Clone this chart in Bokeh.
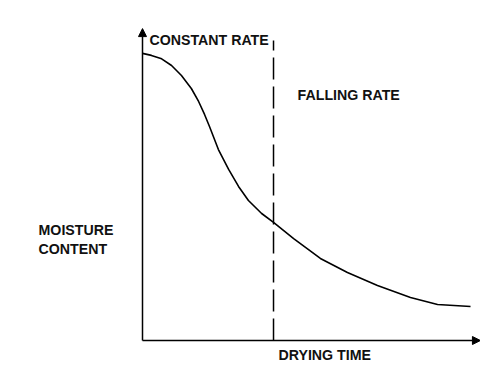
from bokeh.plotting import figure
from bokeh.models import Range1d, Label, Arrow, NormalHead
from bokeh.embed import file_html
from bokeh.resources import INLINE

# Drying curve (conceptual units: time 0-100, moisture 0-100)
time = [0, 2.7, 5.8, 8.8, 11.8, 14.8, 17.0, 18.8, 20.3, 23.0, 26.1, 29.1,
        32.1, 36.1, 39.7, 45.8, 53.9, 62.1, 71.2, 81.2, 89.4, 99.4]
moisture = [99.7, 99.0, 97.8, 95.5, 92.0, 87.5, 83.0, 78.5, 74.3, 66.3, 59.4,
            53.5, 48.6, 44.1, 41.0, 35.4, 28.5, 23.6, 19.1, 14.9, 12.5, 11.8]
critical_time = 39.7
critical_top = 104.2
x_axis_end = 102.4
y_axis_end = 108.3

label_constant = "CONSTANT RATE"
label_falling = "FALLING RATE"
label_y = ["MOISTURE", "CONTENT"]
label_x = "DRYING TIME"

p = figure(width=480, height=372, output_backend="svg", toolbar_location=None,
           x_range=Range1d(-43.03, 102.42), y_range=Range1d(-11.11, 118.06),
           min_border=0)
p.axis.visible = False
p.grid.visible = False
p.outline_line_color = None
p.background_fill_color = "white"

# Axes with arrows
p.add_layout(Arrow(end=NormalHead(size=8, fill_color="black", line_color="black"),
                   x_start=0, y_start=0, x_end=0, y_end=y_axis_end,
                   line_width=1.5, line_color="black"))
p.add_layout(Arrow(end=NormalHead(size=8, fill_color="black", line_color="black"),
                   x_start=0, y_start=0, x_end=x_axis_end, y_end=0,
                   line_width=1.5, line_color="black"))

# Critical moisture dashed line
p.line([critical_time, critical_time], [0, critical_top], line_color="black",
       line_width=1.5, line_dash="22 7")

# Drying curve
p.line(time, moisture, line_color="black", line_width=1.6, line_join="round")

font = "Liberation Sans"
def lab(x, y, t):
    p.add_layout(Label(x=x, y=y, text=t, text_font=font, text_font_size="14.2px",
                       text_font_style="bold", text_color="#111111",
                       text_baseline="alphabetic"))

lab(2.1, 104.2, label_constant)
lab(47.0, 85.1, label_falling)
lab(-31.5, 38.2, label_y[0])
lab(-31.5, 31.9, label_y[1])
lab(41.2, -5.2, label_x)

open("out.html", "w").write(file_html(p, INLINE))
